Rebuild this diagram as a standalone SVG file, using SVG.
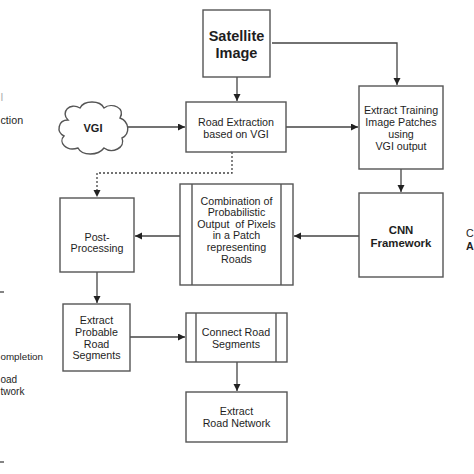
<svg xmlns="http://www.w3.org/2000/svg" width="474" height="474" viewBox="0 0 474 474">
<style>
.box{fill:#fff;stroke:#555;stroke-width:1.4}
.in{stroke:#555;stroke-width:1.4}
.c{fill:none;stroke:#444;stroke-width:1.3}
.d{fill:none;stroke:#444;stroke-width:1.3;stroke-dasharray:2 2}
text{font-family:"Liberation Sans",Arial,sans-serif;fill:#1e1e1e;font-size:10.7px;text-anchor:middle}
.b{font-weight:bold}
.f{text-anchor:start;font-size:10px}
</style>
<defs>
<marker id="ah" markerUnits="userSpaceOnUse" markerWidth="8" markerHeight="8" refX="7" refY="3.5" orient="auto">
<path d="M0,0 L7,3.5 L0,7 Z" fill="#222"/>
</marker>
</defs>
<rect width="474" height="474" fill="#fff"/>

<g id="connectors">
<path class="c" d="M237,77 V101" marker-end="url(#ah)"/>
<path class="c" d="M272,43 H397 V85" marker-end="url(#ah)"/>
<path class="c" d="M127,127 H185" marker-end="url(#ah)"/>
<path class="c" d="M286,127 H358" marker-end="url(#ah)"/>
<path class="c" d="M401,169 V192" marker-end="url(#ah)"/>
<path class="c" d="M359,236 H294" marker-end="url(#ah)"/>
<path class="c" d="M180,236 H135" marker-end="url(#ah)"/>
<path class="d" d="M232,152 V173 H97 V197" marker-end="url(#ah)"/>
<path class="c" d="M97,272 V303" marker-end="url(#ah)"/>
<path class="c" d="M130,337 H185" marker-end="url(#ah)"/>
<path class="c" d="M237,362 V391" marker-end="url(#ah)"/>
</g>

<g id="satellite">
<rect class="box" x="203" y="10" width="67" height="67"/>
<text class="b" x="236.5" y="41" style="font-size:14.5px">Satellite</text>
<text class="b" x="236.5" y="58" style="font-size:14.5px">Image</text>
</g>

<g id="vgi">
<path class="box" d="M68,120 C60,112 70,102 80,108 C84,100 100,100 104,108 C112,102 126,108 120,118 C130,122 130,134 122,138 C126,148 112,154 104,148 C98,156 82,156 78,148 C66,152 58,142 64,136 C56,132 58,120 68,120 Z"/>
<text class="b" x="93" y="132" style="font-size:11px">VGI</text>
</g>

<g id="road-extraction">
<rect class="box" x="186" y="102" width="100" height="50"/>
<text x="236" y="126">Road Extraction</text>
<text x="236" y="138">based on VGI</text>
</g>

<g id="extract-training">
<rect class="box" x="359" y="86" width="84" height="83"/>
<text x="401" y="114">Extract Training</text>
<text x="401" y="126">Image Patches</text>
<text x="401" y="138">using</text>
<text x="401" y="149.5">VGI output</text>
</g>

<g id="cnn">
<rect class="box" x="359" y="193" width="84" height="84"/>
<text class="b" x="401" y="234" style="font-size:11.4px">CNN</text>
<text class="b" x="401" y="247" style="font-size:11.4px">Framework</text>
</g>

<g id="combination">
<rect class="box" x="180" y="184" width="113" height="101"/>
<line class="in" x1="192" y1="184" x2="192" y2="285"/>
<line class="in" x1="281" y1="184" x2="281" y2="285"/>
<text x="236.5" y="205">Combination of</text>
<text x="236.5" y="216">Probabilistic</text>
<text x="236.5" y="228" xml:space="preserve">Output  of Pixels</text>
<text x="236.5" y="239">in a Patch</text>
<text x="236.5" y="251">representing</text>
<text x="236.5" y="263">Roads</text>
</g>

<g id="post-processing">
<rect class="box" x="60" y="198" width="74" height="74"/>
<text x="97" y="241">Post-</text>
<text x="97" y="252">Processing</text>
</g>

<g id="extract-probable">
<rect class="box" x="63" y="304" width="67" height="67"/>
<text x="96.5" y="324">Extract</text>
<text x="96.5" y="336">Probable</text>
<text x="96.5" y="348">Road</text>
<text x="96.5" y="359">Segments</text>
</g>

<g id="connect-road">
<rect class="box" x="186" y="313" width="101" height="49"/>
<line class="in" x1="196" y1="313" x2="196" y2="362"/>
<line class="in" x1="276" y1="313" x2="276" y2="362"/>
<text x="236" y="336">Connect Road</text>
<text x="236" y="348">Segments</text>
</g>

<g id="extract-network">
<rect class="box" x="186" y="392" width="101" height="50"/>
<text x="236.5" y="415">Extract</text>
<text x="236.5" y="427">Road Network</text>
</g>

<g id="edge-fragments">
<text class="f" x="0.5" y="101" style="fill:#aaa">I</text>
<text class="f" x="0.5" y="124" style="font-size:10.7px">ction</text>
<line x1="0" y1="292" x2="4" y2="292" stroke="#333" stroke-width="1.2"/>
<text class="f" x="0.5" y="360" style="font-size:9.8px">ompletion</text>
<text class="f" x="0.5" y="383">oad</text>
<text class="f" x="0.5" y="395">twork</text>
<line x1="0" y1="462" x2="4" y2="462" stroke="#333" stroke-width="1.2"/>
<text x="466" y="237" style="text-anchor:start">C</text>
<text class="b" x="466" y="250" style="text-anchor:start">A</text>
</g>
</svg>
